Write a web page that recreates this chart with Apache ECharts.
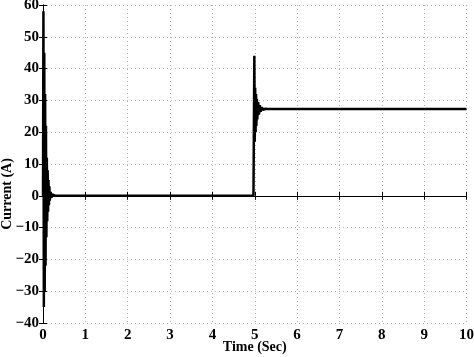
<!DOCTYPE html>
<html><head><meta charset="utf-8">
<script src="https://cdn.jsdelivr.net/npm/echarts@6/dist/echarts.min.js"></script>
<style>html,body{margin:0;padding:0;background:#fff}#c{width:474px;height:357px}</style>
</head><body><div id="c"></div>
<script>
// Time (s)
var timeSec = [0, 0.01, 0.02, 0.03, 0.04, 0.05, 0.06, 0.07, 0.08, 0.09, 0.10, 0.11, 0.12, 0.13, 0.14, 0.15, 0.16, 0.18, 0.20, 0.22, 0.25, 0.30,
  1.0, 2.0, 3.0, 4.0, 4.97, 4.98, 4.99, 5.00, 5.01, 5.02, 5.03, 5.04, 5.05, 5.06, 5.08, 5.10, 5.12, 5.14, 5.17, 5.20, 5.25, 5.30, 6.0, 7.0, 8.0, 9.0, 10.0];
// Current (A)
var currentA = [0, 58, -35, 45, -30, 32, -22, 22, -13, 12, -8, 8, -5, 5, -3, 3, -1.5, 1.2, -0.6, 0.4, 0.2, 0,
  0, 0, 0, 0, 0, 0.5, 44, 17, 34, 20, 32, 22, 30.5, 24, 29.5, 25.5, 28.5, 26.5, 27.8, 27.0, 27.4, 27.3, 27.3, 27.3, 27.3, 27.3, 27.3];
var xTicks = [0,1,2,3,4,5,6,7,8,9,10];
var yTicks = [-40,-30,-20,-10,0,10,20,30,40,50,60];

var font = '"Liberation Serif", "Times New Roman", serif';
var pts = timeSec.map(function(t,i){return [t, currentA[i]];});
var chart = echarts.init(document.getElementById('c'));
var axLine = {show:true, lineStyle:{color:'#000', width:1}};
chart.setOption({
  animation:false,
  grid:{left:43, right:7.5, top:5, bottom:34, show:false, containLabel:false, outerBoundsMode:'none'},
  xAxis:[{
    type:'value', min:xTicks[0], max:xTicks[xTicks.length-1], interval:1,
    axisLine:axLine, axisTick:{show:true, inside:true, length:4, lineStyle:{color:'#000'}},
    axisLabel:{color:'#000', fontFamily:font, fontWeight:'bold', fontSize:15, margin:5},
    splitLine:{show:true, lineStyle:{color:'#b0b0b0', type:[1,3], width:1}},
    name:'Time (Sec)', nameLocation:'middle', nameGap:17, nameMoveOverlap:false,
    nameTextStyle:{color:'#000', fontFamily:font, fontWeight:'bold', fontSize:14}
  },{
    type:'value', position:'top', min:0, max:10, interval:1,
    axisLine:axLine, axisTick:{show:true, inside:true, length:4, lineStyle:{color:'#000'}},
    axisLabel:{show:false}, splitLine:{show:false}
  }],
  yAxis:[{
    type:'value', min:yTicks[0], max:yTicks[yTicks.length-1], interval:10,
    axisLine:axLine, axisTick:{show:true, inside:true, length:4, lineStyle:{color:'#000'}},
    axisLabel:{color:'#000', fontFamily:font, fontWeight:'bold', fontSize:15, margin:4,
      formatter:function(v){return v<0 ? '\u2212'+Math.abs(v) : String(v);}},
    splitLine:{show:true, lineStyle:{color:'#b0b0b0', type:[1,3], width:1}},
    name:'Current (A)', nameLocation:'middle', nameGap:29, nameRotate:90, nameMoveOverlap:false,
    nameTextStyle:{color:'#000', fontFamily:font, fontWeight:'bold', fontSize:14, padding:[0,60,0,0]}
  },{
    type:'value', position:'right', min:-40, max:60, interval:10,
    axisLine:axLine, axisTick:{show:true, inside:true, length:4, lineStyle:{color:'#000'}},
    axisLabel:{show:false}, splitLine:{show:false}
  }],
  series:[{
    type:'line', data:pts, showSymbol:false, symbol:'none',
    lineStyle:{color:'#000', width:2.5}, xAxisIndex:0, yAxisIndex:0
  }]
});
</script></body></html>
